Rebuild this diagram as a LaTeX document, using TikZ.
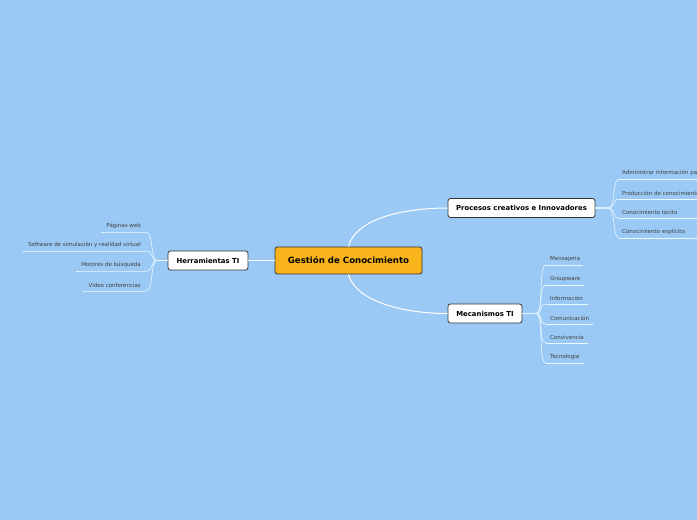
\documentclass[tikz,border=0pt]{standalone}
\usepackage{fontspec}
\setmainfont{DejaVu Sans}
\begin{document}
\begin{tikzpicture}[x=1pt,y=-1pt,
 main/.style={draw=black!80,fill=gold,rounded corners=2.5pt,line width=0.8pt,font=\bfseries\fontsize{8.6}{9}\selectfont,minimum width=147pt,minimum height=27pt},
 sub/.style={draw=black!80,fill=white,rounded corners=2.5pt,line width=0.8pt,font=\bfseries\fontsize{6.9}{7}\selectfont,minimum height=19pt,inner xsep=4pt},
 leaf/.style={font=\fontsize{5.5}{6}\selectfont,text=black!75,inner sep=1pt},
 br/.style={draw=white,line width=1pt},
 lk/.style={draw=white!70!cyan!30,line width=0.6pt}]
\definecolor{bg}{HTML}{9AC9F5}
\definecolor{gold}{HTML}{F9B41B}
\fill[bg] (0,0) rectangle (697,520);
\useasboundingbox (0,0) rectangle (697,520);
\begin{scope}
\clip (0,0) rectangle (697,520);
\node[main] (g) at (348.5,260.5) {Gestión de Conocimiento};
\node[sub,minimum width=80pt] (h) at (208,260.5) {Herramientas TI};
\node[sub,minimum width=147pt] (p) at (521.5,208) {Procesos creativos e Innovadores};
\node[sub,minimum width=74pt] (m) at (485,313.5) {Mecanismos TI};
\draw[br] (g.west) -- (h.east);
\draw[br] (g.north) .. controls (355,220) and (400,208) .. (p.west);
\draw[br] (g.south) .. controls (355,300) and (400,313.5) .. (m.west);
\foreach \t/\y [count=\i] in {Administrar información para/173,Producción de conocimiento/193,Conocimiento tácito/212,Conocimiento explícito/232}{
 \node[leaf,anchor=west] (p\i) at (621,\y) {\t};
 \coordinate (pu\i) at (619,\y+6);
 \draw[lk] (pu\i) -- (697,\y+6);
 \draw[lk] (p.east) -- (608,208) .. controls (616,208) and (612,\y+6) .. (pu\i);
}
\foreach \t/\y/\w [count=\i] in {Mensajería/259/37,Groupware/279/38,Información/298/42,Comunicación/318/47,Convivencia/337/42,Tecnología/357/38}{
 \node[leaf,anchor=west] (m\i) at (549,\y) {\t};
 \coordinate (mu\i) at (546,\y+6);
 \draw[lk] (mu\i) -- ++(\w,0);
 \draw[lk] (m.east) -- (536,313.5) .. controls (544,313.5) and (538,\y+6) .. (mu\i);
}
\foreach \t/\y [count=\i] in {Páginas web/226,Software de simulación y realidad virtual/245,Motores de búsqueda/265,Video conferencias/285}{
 \node[leaf,anchor=east] (h\i) at (142,\y) {\t};
 \coordinate (hu\i) at (146,\y+6);
 \draw[lk] (hu\i) -- (h\i.south west |- hu\i) -- ++(-4,0);
 \draw[lk] (h.west) -- (157,260.5) .. controls (150,260.5) and (154,\y+6) .. (hu\i);
}
\end{scope}
\end{tikzpicture}
\end{document}
